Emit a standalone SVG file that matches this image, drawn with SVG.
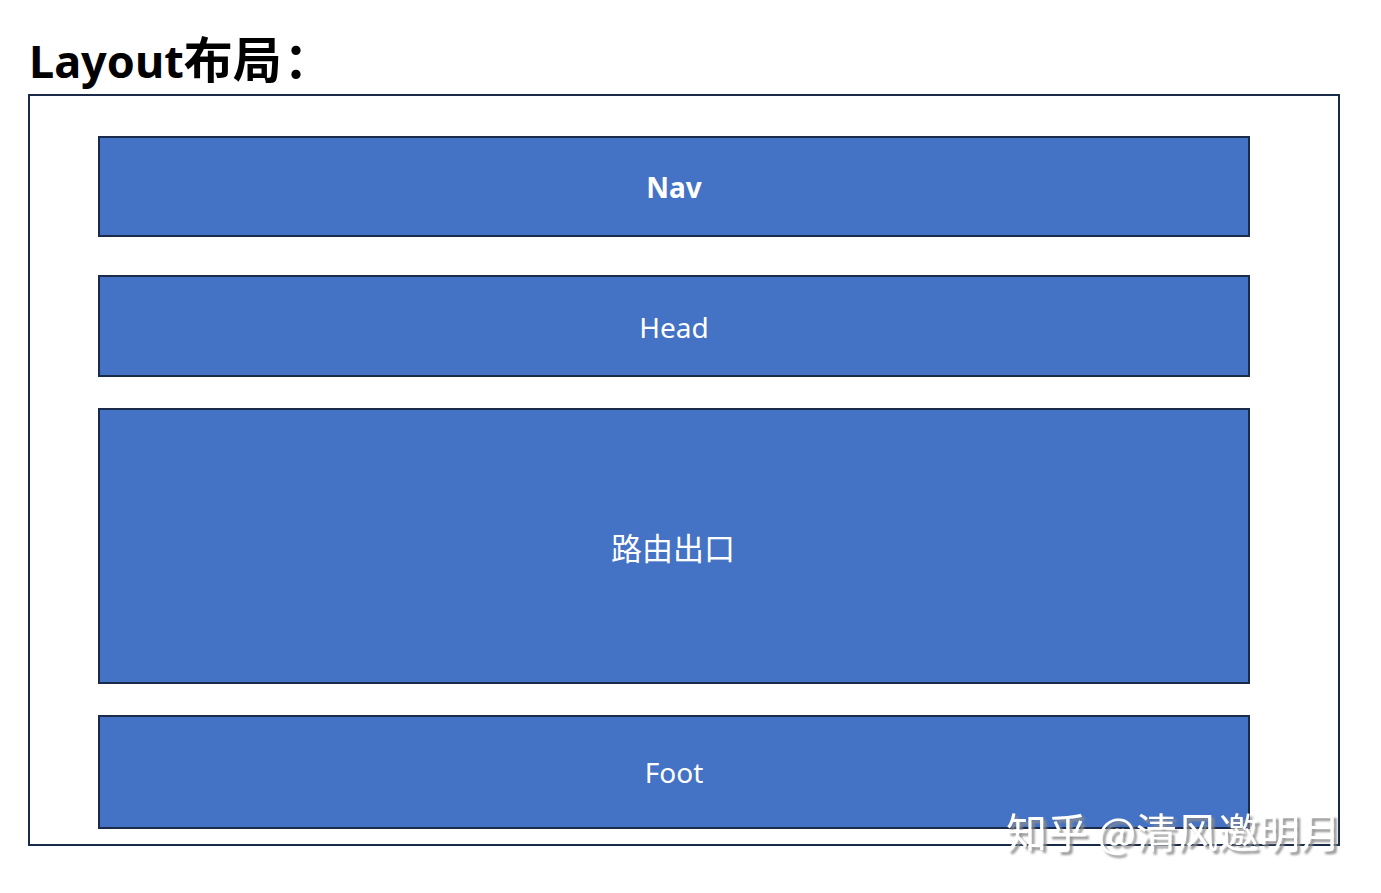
<svg xmlns="http://www.w3.org/2000/svg" width="1381" height="893" viewBox="0 0 1381 893">
<defs>
<filter id="shadow" x="-5%" y="-20%" width="110%" height="140%">
<feDropShadow dx="3" dy="3" stdDeviation="1" flood-color="#8a8a8a" flood-opacity="0.9"/>
</filter>
</defs>
<style>
.box{fill:#4472C4;stroke:#1a2b4a;stroke-width:2}
.lbl{fill:#ffffff;font-family:"Noto Sans","Noto Sans CJK SC",sans-serif;font-size:28px;text-anchor:middle;dominant-baseline:central}
.wm{font-family:"Noto Sans CJK SC",sans-serif;font-size:41px;fill:#ffffff}
</style>
<rect width="1381" height="893" fill="#ffffff"/>
<text x="29" y="78" font-family="'Noto Sans','Noto Sans CJK SC',sans-serif" font-size="45" font-weight="bold" fill="#000000">Layout<tspan font-size="49">布局</tspan><tspan font-size="49" dx="2">：</tspan></text>
<g id="layout">
<rect x="29" y="95" width="1310" height="750" fill="#ffffff" stroke="#1a2b4a" stroke-width="2"/>
</g>
<g id="nav"><rect class="box" x="99" y="137" width="1150" height="99"/><text class="lbl" x="674" y="187" font-weight="bold">Nav</text></g>
<g id="head"><rect class="box" x="99" y="276" width="1150" height="100"/><text class="lbl" x="674" y="327">Head</text></g>
<g id="router"><rect class="box" x="99" y="409" width="1150" height="274"/><text class="lbl" x="673" y="546" style="font-family:'Noto Sans CJK SC',sans-serif;font-size:31px">路由出口</text></g>
<g id="foot"><rect class="box" x="99" y="716" width="1150" height="112"/><text class="lbl" x="674" y="772">Foot</text></g>
<g id="connectors"></g>
<g id="watermark">
<text class="wm" x="1006" y="848" filter="url(#shadow)">知乎 @清风邀明月</text>
</g>
</svg>
